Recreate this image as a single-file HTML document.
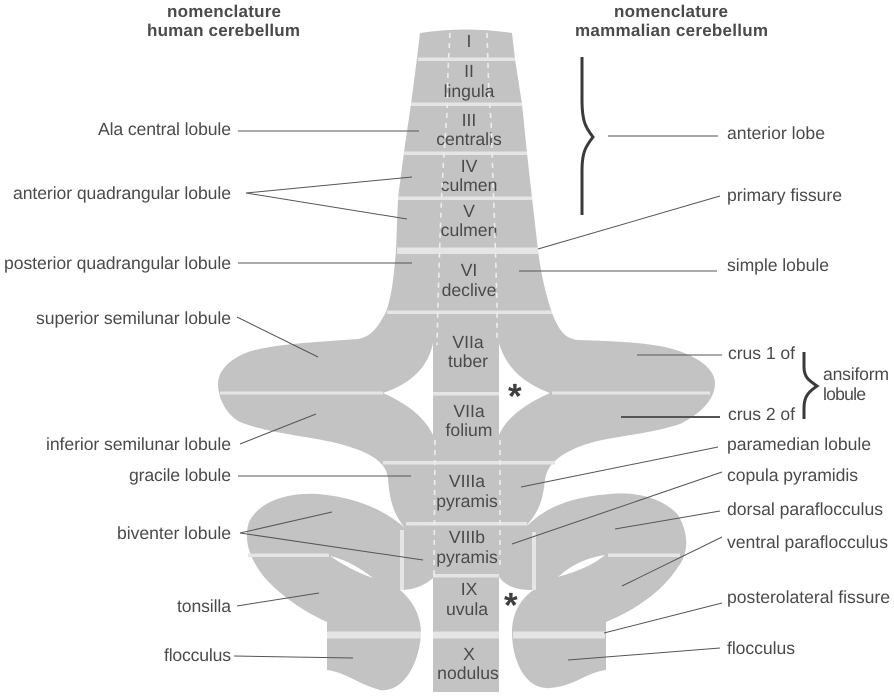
<!DOCTYPE html>
<html><head><meta charset="utf-8"><style>
html,body{margin:0;padding:0;background:#fff}
svg{display:block}
text{font-family:"Liberation Sans",sans-serif;font-size:17.6px;fill:#4a4a4a;text-rendering:geometricPrecision}
.b{font-weight:bold;font-size:17px}
.c{text-anchor:middle}
</style></head><body>
<svg width="894" height="697" viewBox="0 0 894 697" xmlns="http://www.w3.org/2000/svg">
<g fill="#c4c3c4">
<path d="M420,33 Q466,26 512,33 L515,59 L522,104 L527,153 L532,198 L538,250 C541,275 546,295 552,313 C558,328 564,339 578,340 C610,341 640,342 665,347 C695,354 715,368 715,383 C715,400 700,414 680,424 C650,434 615,436 590,443 C570,449 547,460 545,480 C543,495 542,508 527,525 L499,525 L499,435 C506,418 525,404 550,393 C525,384 506,368 499,343 L433,343 C428,368 410,384 383,393 C408,404 425,418 433,435 L433,525 L405,528 C392,513 389,495 388,478 C386,462 370,452 340,444 C310,436 270,434 240,422 C228,416 218,400 218,384 C218,368 235,355 255,350 C285,343 320,342 358,339 C372,337 379,325 386,312 C392,295 394,275 396,250 L398,198 L404,152 L411,104 L417,58 Z"/>
<rect x="433" y="340" width="66" height="352"/>
<path d="M400,528 L433,525 L433,578 C425,585 415,590 400,590 Z"/>
<path d="M499,525 L532,525 L532,590 C520,590 507,588 499,577 Z"/>
<path fill-rule="evenodd" d="M405,528 C385,510 355,497 318,494 C285,492 258,503 249,522 C243,540 250,560 265,578 C282,597 305,612 327,622 L327,670 C345,672 358,684 380,690 C405,693 420,660 421,633 C421,615 412,600 400,590 L400,528 Z M330,556 C347,560 360,568 373,578 C358,573 345,566 330,556 Z"/>
<path fill-rule="evenodd" d="M528,525 C545,508 570,497 610,494 C640,491 665,500 678,515 C690,535 688,555 678,567 C660,595 630,612 606,622 L606,670 C585,673 575,686 550,688 C525,690 512,660 512,632 C512,612 522,597 535,589 Z M605,555 C585,558 570,566 558,577 C575,572 592,566 605,555 Z"/>
</g>
<g fill="#e6e5e5">
<rect x="418" y="57.5" width="97" height="3.5"/>
<rect x="411" y="102.5" width="111" height="3.5"/>
<rect x="404" y="151.5" width="123" height="3.5"/>
<rect x="398" y="196.5" width="134" height="3.5"/>
<rect x="397" y="247.5" width="141" height="6.5"/>
<rect x="387" y="310.5" width="165" height="3.5"/>
<rect x="220" y="391.5" width="163" height="3"/>
<rect x="433" y="392" width="66" height="3.5"/>
<rect x="552" y="391.5" width="158" height="3"/>
<rect x="383" y="461" width="172" height="3.5"/>
<rect x="406" y="522" width="121" height="3.5"/>
<rect x="433" y="574" width="66" height="3.5"/>
<rect x="327" y="631.5" width="94" height="7"/>
<rect x="433" y="631.5" width="66" height="7"/>
<rect x="513" y="631.5" width="92" height="7"/>
<rect x="248" y="553.5" width="81" height="3.5"/>
<rect x="608" y="553.5" width="72" height="3.5"/>
<rect x="400" y="530" width="4" height="60"/>
<rect x="532" y="532" width="4" height="58"/>
</g>
<text class="c" x="469" y="47">I</text>
<text class="c" x="469" y="77">II</text>
<text class="c" x="469" y="97">lingula</text>
<text class="c" x="469" y="126">III</text>
<text class="c" x="469" y="145">centralis</text>
<text class="c" x="469" y="172">IV</text>
<text class="c" x="469" y="191">culmen</text>
<text class="c" x="469" y="217">V</text>
<text class="c" x="469" y="236">culmen</text>
<text class="c" x="469" y="276">VI</text>
<text class="c" x="469" y="296">declive</text>
<text class="c" x="468" y="348">VIIa</text>
<text class="c" x="468" y="367">tuber</text>
<text class="c" x="469" y="417">VIIa</text>
<text class="c" x="469" y="436">folium</text>
<text class="c" x="467" y="487">VIIIa</text>
<text class="c" x="467" y="507">pyramis</text>
<text class="c" x="467" y="543">VIIIb</text>
<text class="c" x="467" y="563">pyramis</text>
<text class="c" x="469" y="595">IX</text>
<text class="c" x="467" y="615">uvula</text>
<text class="c" x="469" y="660">X</text>
<text class="c" x="468" y="679">nodulus</text>
<g fill="none" stroke="#eeeded" stroke-width="1.6" stroke-dasharray="5 5">
<path d="M450,33 L448,70 L447,113 L444,153 L442,187 L440,237 L438,303 L437,345"/>
<path d="M487,33 L489,97 L491,120 L493,180 L495,237 L497,303 L497,340"/>
<path d="M435,440 L434,575"/>
<path d="M500,440 L500,570"/>
</g>
<g stroke="#555" stroke-width="1" fill="none">
<path d="M238,131H419"/>
<path d="M412,177L246,193L407,219"/>
<path d="M238,263H412"/>
<path d="M237,317L318,357"/>
<path d="M240,444L316,414"/>
<path d="M238,476H411"/>
<path d="M332,512L240,533L423,560"/>
<path d="M237,606L319,593"/>
<path d="M234,656L353,658"/>
<path d="M608,136H718"/>
<path d="M538,249L720,196"/>
<path d="M519,271H717"/>
<path d="M637,355H722"/>
<path d="M621,417H720" stroke-width="2"/>
<path d="M521,487L718,447"/>
<path d="M512,544L722,472"/>
<path d="M615,529L720,511"/>
<path d="M622,586L722,537"/>
<path d="M604,633L722,603"/>
<path d="M568,660L720,648"/>
</g>
<g fill="none" stroke="#3a3a3a" stroke-width="3">
<path d="M582,57 V100 C582,122 586,128 593,137 C586,146 582,152 582,170 V215"/>
<path d="M804,352 V367 C804,378 810,381 817,386 C810,391 804,395 804,408 V419"/>
</g>
<text class="b" x="167" y="17" textLength="114">nomenclature</text>
<text class="b" x="147" y="36" textLength="153">human cerebellum</text>
<text class="b" x="614" y="17" textLength="114">nomenclature</text>
<text class="b" x="575" y="36" textLength="193">mammalian cerebellum</text>
<text x="98" y="135" textLength="133">Ala central lobule</text>
<text x="13" y="199" textLength="218">anterior quadrangular lobule</text>
<text x="4" y="269" textLength="227">posterior quadrangular lobule</text>
<text x="36" y="324" textLength="195">superior semilunar lobule</text>
<text x="46" y="450" textLength="185">inferior semilunar lobule</text>
<text x="129" y="481" textLength="102">gracile lobule</text>
<text x="117" y="539" textLength="114">biventer lobule</text>
<text x="177" y="612" textLength="54">tonsilla</text>
<text x="164" y="661" textLength="67">flocculus</text>
<text x="727" y="139" textLength="98">anterior lobe</text>
<text x="727" y="201" textLength="115">primary fissure</text>
<text x="727" y="271" textLength="102">simple lobule</text>
<text x="728" y="359" textLength="67">crus 1 of</text>
<text x="728" y="420" textLength="67">crus 2 of</text>
<text x="823" y="380" textLength="66">ansiform</text>
<text x="823" y="400" textLength="43">lobule</text>
<text x="727" y="450" textLength="144">paramedian lobule</text>
<text x="727" y="481" textLength="131">copula pyramidis</text>
<text x="727" y="515" textLength="156">dorsal paraflocculus</text>
<text x="727" y="548" textLength="161">ventral paraflocculus</text>
<text x="727" y="603" textLength="163">posterolateral fissure</text>
<text x="727" y="654" textLength="68">flocculus</text>
<text x="508" y="408" style="font-size:35px;font-weight:bold;fill:#3f3f3f">*</text>
<text x="504" y="617" style="font-size:35px;font-weight:bold;fill:#3f3f3f">*</text>
</svg>
</body></html>
